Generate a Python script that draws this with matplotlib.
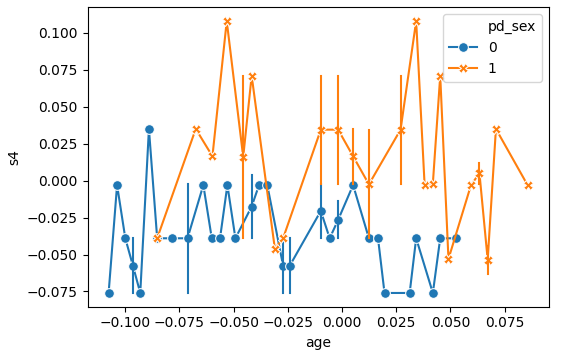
import matplotlib
matplotlib.use("Agg")
import matplotlib.pyplot as plt
from matplotlib.lines import Line2D
import numpy as np
import pandas as pd
import seaborn as sns

age_0 = [-0.1077, -0.1038, -0.1000, -0.0965, -0.0965, -0.0931, -0.0891, -0.0853,
         -0.0784, -0.0713, -0.0713, -0.0713, -0.0640, -0.0601, -0.0563, -0.0529,
         -0.0492, -0.0417, -0.0417, -0.0383, -0.0345, -0.0272, -0.0272, -0.0241,
         -0.0241, -0.0098, -0.0098, -0.0057, -0.0018, -0.0018, 0.0051, 0.0124,
         0.0166, 0.0196, 0.0312, 0.0342, 0.0419, 0.0453, 0.0526]
s4_0 = [-0.076, -0.003, -0.039, -0.039, -0.076, -0.076, 0.035, -0.039,
        -0.039, -0.002, -0.076, -0.039, -0.003, -0.039, -0.039, -0.003,
        -0.039, 0.004, -0.039, -0.003, -0.003, -0.039, -0.076, -0.039,
        -0.076, -0.002, -0.039, -0.039, -0.014, -0.039, -0.003, -0.039,
        -0.039, -0.076, -0.076, -0.039, -0.076, -0.039, -0.039]

age_1 = [-0.0853, -0.0675, -0.0598, -0.0532, -0.0456, -0.0456, -0.0417, -0.0310,
         -0.0272, -0.0098, -0.0098, -0.0018, -0.0018, 0.0051, 0.0051, 0.0124,
         0.0124, 0.0270, 0.0270, 0.0342, 0.0381, 0.0419, 0.0453, 0.0491,
         0.0595, 0.0634, 0.0634, 0.0672, 0.0672, 0.0710, 0.0856]
s4_1 = [-0.039, 0.035, 0.0165, 0.108, 0.071, -0.039, 0.071, -0.046,
        -0.039, 0.071, -0.002, 0.071, -0.002, 0.035, -0.002, 0.034,
        -0.039, 0.071, -0.002, 0.108, -0.003, -0.002, 0.071, -0.053,
        -0.003, 0.012, -0.002, -0.044, -0.063, 0.035, -0.003]

df = pd.DataFrame({
    "age": age_0 + age_1,
    "s4": s4_0 + s4_1,
    "pd_sex": ["0"] * len(age_0) + ["1"] * len(age_1),
})

fig, ax = plt.subplots(figsize=(5.62, 3.54), dpi=100)
fig.subplots_adjust(left=0.156, right=0.976, top=0.979, bottom=0.134)

sns.lineplot(data=df, x="age", y="s4", hue="pd_sex", style="pd_sex",
             hue_order=["0", "1"], style_order=["0", "1"],
             palette=["#1f77b4", "#ff7f0e"], markers=True, dashes=False,
             err_style="bars", errorbar=("pi", 100), markersize=7, ax=ax)

# old-style seaborn legend: title shown as an entry without handle
handles, labels = ax.get_legend_handles_labels()
blank = Line2D([], [], linestyle="", marker="")
ax.legend([blank] + handles, ["pd_sex"] + labels, loc="upper right")

fig.savefig("out.png", dpi=100)
